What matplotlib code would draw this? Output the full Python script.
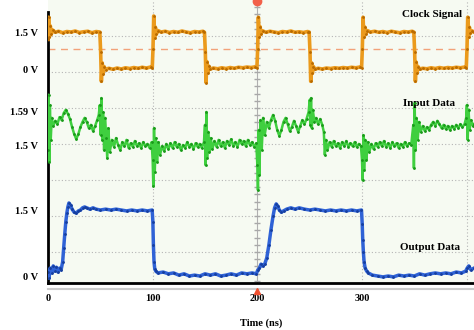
# -*- coding: utf-8 -*-
# oscilloscope capture: clock, input data, output data
import matplotlib
matplotlib.use('Agg')
import matplotlib.pyplot as plt
import numpy as np

plt.rcParams['font.family'] = ['Liberation Serif', 'DejaVu Serif']
plt.rcParams['font.weight'] = 'bold'

# clock signal (ns, V)
clock_t = [0, 0.6, 1.4, 2.2, 3.2, 4.5, 7, 10, 14, 18, 22, 26, 30, 34, 38, 42, 46, 49.5,
           50.3, 51, 51.8, 52.6, 53.6, 55, 58, 62, 66, 70, 74, 78, 82, 86, 90, 94, 98, 99.6,
           100.3, 101, 101.8, 102.6, 103.6, 105, 108, 112, 116, 120, 124, 128, 132, 136, 140, 144, 148, 149.5,
           150.3, 151, 151.8, 152.6, 153.6, 155, 158, 162, 166, 170, 174, 178, 182, 186, 190, 194, 198, 199.6,
           200.3, 201, 201.8, 202.6, 203.6, 205, 208, 212, 216, 220, 224, 228, 232, 236, 240, 244, 248, 249.5,
           250.3, 251, 251.8, 252.6, 253.6, 255, 258, 262, 266, 270, 274, 278, 282, 286, 290, 294, 298, 299.6,
           300.3, 301, 301.8, 302.6, 303.6, 305, 308, 312, 316, 320, 324, 328, 332, 336, 340, 344, 348, 349.5,
           350.3, 351, 351.8, 352.6, 353.6, 355, 358, 362, 366, 370, 374, 378, 382, 386, 390, 394, 398, 399.6,
           400.3, 401, 401.8, 402.6, 403.6, 405, 407]
clock_v = [1.2, 2.1, 1.3, 1.75, 1.42, 1.58, 1.49, 1.53, 1.47, 1.52, 1.50, 1.54, 1.48, 1.51, 1.53, 1.47, 1.52, 1.50,
           0.7, -0.5, 0.25, -0.2, 0.1, -0.02, 0.03, -0.01, 0.04, 0.0, 0.05, 0.02, 0.06, 0.03, 0.07, 0.04, 0.08, 0.05,
           0.8, 2.15, 1.25, 1.7, 1.42, 1.56, 1.5, 1.53, 1.48, 1.52, 1.49, 1.54, 1.5, 1.47, 1.52, 1.5, 1.53, 1.49,
           0.7, -0.55, 0.3, -0.15, 0.12, 0.0, 0.04, 0.01, 0.05, 0.02, 0.06, 0.03, 0.07, 0.05, 0.08, 0.06, 0.09, 0.06,
           0.8, 2.1, 1.3, 1.72, 1.44, 1.55, 1.49, 1.53, 1.5, 1.47, 1.52, 1.5, 1.54, 1.49, 1.51, 1.48, 1.52, 1.5,
           0.7, -0.5, 0.25, -0.18, 0.1, -0.01, 0.03, 0.0, 0.04, 0.02, 0.05, 0.03, 0.06, 0.04, 0.07, 0.05, 0.08, 0.06,
           0.8, 2.1, 1.28, 1.7, 1.43, 1.56, 1.5, 1.53, 1.49, 1.52, 1.48, 1.53, 1.5, 1.47, 1.52, 1.5, 1.53, 1.5,
           0.7, -0.5, 0.28, -0.15, 0.1, 0.0, 0.03, 0.01, 0.05, 0.02, 0.06, 0.03, 0.06, 0.04, 0.07, 0.05, 0.08, 0.06,
           0.8, 2.1, 1.3, 1.7, 1.45, 1.55, 1.5]

# input data (ns, V)
input_t = [0, 0.6, 1.2, 1.8, 2.6, 3.6, 5, 7, 9, 11, 13, 15, 17, 19, 21, 23, 25, 27, 29, 31, 33, 35, 37, 39, 41, 43, 45, 47, 48.5, 49.5,
           50.3, 51, 51.8, 52.6, 53.6, 54.6, 55.6, 56.6, 57.6, 59, 61, 63, 65, 67, 69, 71, 73, 75, 77, 79, 81, 83, 85, 87, 89, 91, 93, 95, 97, 99,
           100, 100.6, 101.3, 102, 103, 104.2, 105.5, 107, 109, 111, 113, 115, 117, 119, 121, 123, 125, 127, 129, 131, 133, 135, 137, 139, 141, 143, 145, 147, 149,
           150, 150.6, 151.3, 152, 153, 154.2, 155.5, 157, 159, 161, 163, 165, 167, 169, 171, 173, 175, 177, 179, 181, 183, 185, 187, 189, 191, 193, 195, 197, 199,
           200, 200.6, 201.3, 202, 203, 204.2, 205.5, 207, 209, 211, 213, 215, 217, 219, 221, 223, 225, 227, 229, 231, 233, 235, 237, 239, 241, 243, 245, 247, 249,
           250, 250.6, 251.3, 252, 253, 254.5, 256, 258, 260, 262, 263.5, 264.5, 265.5, 267, 269, 271, 273, 275, 277, 279, 281, 283, 285, 287, 289, 291, 293, 295, 297, 299,
           300, 300.6, 301.3, 302, 303, 304.2, 305.5, 307, 309, 311, 313, 315, 317, 319, 321, 323, 325, 327, 329, 331, 333, 335, 337, 339, 341, 343, 345, 347,
           349, 349.6, 350.3, 351, 352, 353.2, 354.5, 356, 358, 360, 362, 364, 366, 368, 370, 372, 374, 376, 378, 380, 382, 384, 386, 388, 390, 392, 394, 396, 398,
           399.5, 400.2, 401, 401.8, 402.8, 404, 406, 407]
input_v = [1.486, 1.637, 1.454, 1.609, 1.514, 1.574, 1.552, 1.566, 1.557, 1.576, 1.568, 1.587, 1.596, 1.585, 1.571, 1.549, 1.530, 1.516, 1.530, 1.549,
           1.563, 1.574, 1.563, 1.546, 1.555, 1.538, 1.552, 1.568, 1.582, 1.609,
           1.527, 1.628, 1.514, 1.590, 1.486, 1.574, 1.519, 1.464, 1.546, 1.481, 1.514, 1.495, 1.519, 1.500, 1.486, 1.508, 1.497, 1.514, 1.492, 1.505,
           1.495, 1.511, 1.497, 1.505, 1.492, 1.508, 1.497, 1.503, 1.492, 1.508,
           1.459, 1.388, 1.546, 1.426, 1.519, 1.454, 1.508, 1.473, 1.497, 1.484, 1.503, 1.489, 1.505, 1.492, 1.508, 1.495, 1.503, 1.486, 1.500, 1.492,
           1.508, 1.495, 1.503, 1.489, 1.505, 1.495, 1.503, 1.492, 1.508,
           1.555, 1.445, 1.590, 1.465, 1.536, 1.481, 1.519, 1.489, 1.511, 1.495, 1.514, 1.497, 1.508, 1.492, 1.511, 1.500, 1.516, 1.497, 1.508, 1.495,
           1.514, 1.503, 1.511, 1.497, 1.514, 1.500, 1.508, 1.495, 1.505,
           1.445, 1.377, 1.541, 1.418, 1.568, 1.486, 1.574, 1.527, 1.563, 1.546, 1.568, 1.582, 1.566, 1.541, 1.525, 1.541, 1.563, 1.574, 1.557, 1.538,
           1.549, 1.566, 1.552, 1.536, 1.552, 1.568, 1.557, 1.571, 1.590,
           1.623, 1.555, 1.628, 1.546, 1.596, 1.563, 1.574, 1.557, 1.571, 1.555, 1.536, 1.473, 1.514, 1.486, 1.508, 1.495, 1.511, 1.497, 1.505, 1.492,
           1.508, 1.497, 1.511, 1.495, 1.505, 1.497, 1.508, 1.495, 1.503, 1.497,
           1.459, 1.404, 1.527, 1.432, 1.514, 1.459, 1.508, 1.481, 1.503, 1.489, 1.505, 1.495, 1.508, 1.497, 1.511, 1.495, 1.505, 1.492, 1.508, 1.497,
           1.505, 1.492, 1.503, 1.495, 1.508, 1.497, 1.505, 1.500,
           1.555, 1.437, 1.615, 1.486, 1.574, 1.514, 1.563, 1.536, 1.552, 1.538, 1.549, 1.541, 1.555, 1.563, 1.552, 1.566, 1.557, 1.546, 1.555, 1.544,
           1.552, 1.541, 1.552, 1.544, 1.555, 1.546, 1.557, 1.549, 1.557,
           1.574, 1.609, 1.514, 1.596, 1.541, 1.568, 1.552, 1.557]

# output data (ns, V)
output_t = [0, 1, 2, 3.5, 5, 6.5, 8, 9.5, 11, 12.5, 14, 15, 16, 17, 18, 19, 20, 21.5, 23, 25, 27, 29, 31, 33, 35, 37, 40, 43, 46,
            50, 55, 60, 65, 70, 75, 80, 85, 90, 95, 99.5,
            100.2, 100.7, 101.3, 102, 103, 105, 110, 115, 120, 125, 130, 135, 140, 145, 150, 155, 160, 165, 170, 175, 180, 185, 190, 195, 199,
            200.5, 202, 203.5, 205, 207, 209, 211, 213, 215, 216.5, 218, 219.5, 221, 223, 225, 228, 232, 236, 240, 245,
            250, 255, 260, 265, 270, 275, 280, 285, 290, 295, 299.5,
            300.2, 300.7, 301.3, 302, 303, 304.5, 306, 310, 315, 320, 325, 330, 335, 340, 345, 350, 355, 360, 365, 370, 375, 380, 385, 390, 395, 399,
            400.5, 402, 404, 407]
output_v = [0.09, -0.05, 0.18, 0.07, 0.23, 0.11, 0.20, 0.09, 0.18, 0.14, 0.32, 0.64, 0.95, 1.23, 1.43, 1.57, 1.66, 1.61, 1.52, 1.45, 1.43, 1.48,
            1.50, 1.55, 1.57, 1.55, 1.52, 1.55, 1.52,
            1.50, 1.52, 1.50, 1.52, 1.50, 1.48, 1.50, 1.48, 1.50, 1.48, 1.50,
            1.23, 0.70, 0.32, 0.16, 0.11, 0.07, 0.09, 0.05, 0.07, 0.02, 0.05, 0.0, 0.02, 0.0, 0.05, 0.02, 0.05, 0.0, 0.02, 0.05, 0.02, 0.07, 0.05, 0.07, 0.05,
            0.14, 0.18, 0.27, 0.23, 0.27, 0.41, 0.70, 1.05, 1.36, 1.55, 1.64, 1.59, 1.50, 1.45, 1.48, 1.52, 1.55, 1.52, 1.55, 1.52,
            1.50, 1.52, 1.50, 1.48, 1.50, 1.48, 1.50, 1.48, 1.50, 1.48, 1.50,
            1.18, 0.82, 0.55, 0.32, 0.18, 0.11, 0.07, 0.02, 0.0, -0.02, 0.0, -0.02, 0.02, 0.0, 0.02, 0.0, 0.05, 0.02, 0.05, 0.07, 0.05, 0.07, 0.05, 0.09, 0.07, 0.11,
            0.18, 0.23, 0.14, 0.18]

trigger_v = 0.8

# channel offsets (div) and gains (div per V)
clk_off, clk_gain = 6.083, 0.685
in_ref, in_off, in_gain = 1.5, 3.972, 10.19
out_off, out_gain = 0.333, 1.222


def clk(v):
    return clk_off + np.asarray(v) * clk_gain


def inp(v):
    return in_off + (np.asarray(v) - in_ref) * in_gain


def outp(v):
    return out_off + np.asarray(v) * out_gain


fig = plt.figure(figsize=(4.74, 3.30), dpi=100)
ax = fig.add_axes([48/474, 47/330, 426/474, 283/330])
ax.set_facecolor('#f6faf2')
ax.set_xlim(0, 407)
ax.set_ylim(8 - 283/36, 8)

# scope graticule
for yy in range(1, 8):
    ax.axhline(yy, color='#b5b5b5', lw=0.8, ls=(0, (1, 2)), zorder=1)
for xx in [100, 300, 400]:
    ax.axvline(xx, color='#b5b5b5', lw=0.8, ls=(0, (1, 2)), zorder=1)
ax.axvline(200, color='#b0b0b0', lw=0.8, zorder=1)
minor = np.arange(1, 40) * 0.2
ax.plot(np.full(len(minor), 200), minor, marker='_', ms=4, ls='none', color='#a8a8a8', zorder=1)
ax.axhline(clk(trigger_v), color='#f2a27a', lw=1.0, ls=(0, (5, 4)), zorder=1)

# traces
ax.plot(clock_t, clk(clock_v), color='#eb9a1c', lw=2.6, zorder=3)
ax.plot(clock_t, clk(clock_v), '.', color='#b86a00', ms=2, zorder=4)
ax.plot(input_t, inp(input_v), color='#3fcf3f', lw=1.8, zorder=3)
ax.plot(input_t, inp(input_v), '.', color='#1a9a1a', ms=2, zorder=4)
ax.plot(output_t, outp(output_v), color='#2f62d6', lw=2.5, zorder=3)
ax.plot(output_t, outp(output_v), '.', color='#163e9e', ms=2, zorder=4)

# axes look
for s in ['top', 'right']:
    ax.spines[s].set_visible(False)
ax.spines['left'].set_linewidth(2)
ax.spines['bottom'].set_linewidth(2)
ax.spines['left'].set_bounds(8 - 283/36, 8 - 12/36)

ax.set_xticks([0, 100, 200, 300])
ax.tick_params(axis='x', length=0, pad=8, labelsize=7.5)
yt = [float(clk(1.5)), float(clk(0)), float(inp(1.59)), float(inp(1.5)), float(outp(1.5)), float(outp(0))]
ax.set_yticks(yt)
ax.set_yticklabels(['1.5 V', '0 V', '1.59 V', '1.5 V', '1.5 V', '0 V'])
ax.tick_params(axis='y', length=0, pad=7, labelsize=7.5)
ax.set_xlabel('Time (ns)', fontsize=7.5, fontweight='bold', labelpad=11)

# markers and strip below the axis
ax.plot([0, 1], [-0.021, -0.021], transform=ax.transAxes, clip_on=False, color='#cccccc', lw=1.5)
ax.plot([200], [-0.028], marker='^', ms=5, color='#f05030', transform=ax.get_xaxis_transform(), clip_on=False)
ax.plot([200], [0.996], marker='o', ms=6, color='#f2604a', transform=ax.get_xaxis_transform(), clip_on=False)

ax.text(0.901, 0.947, 'Clock Signal', transform=ax.transAxes, ha='center', va='center', fontsize=8, fontweight='bold')
ax.text(0.894, 0.636, 'Input Data', transform=ax.transAxes, ha='center', va='center', fontsize=8, fontweight='bold')
ax.text(0.897, 0.124, 'Output Data', transform=ax.transAxes, ha='center', va='center', fontsize=8, fontweight='bold')

fig.savefig('out.png', dpi=100)
